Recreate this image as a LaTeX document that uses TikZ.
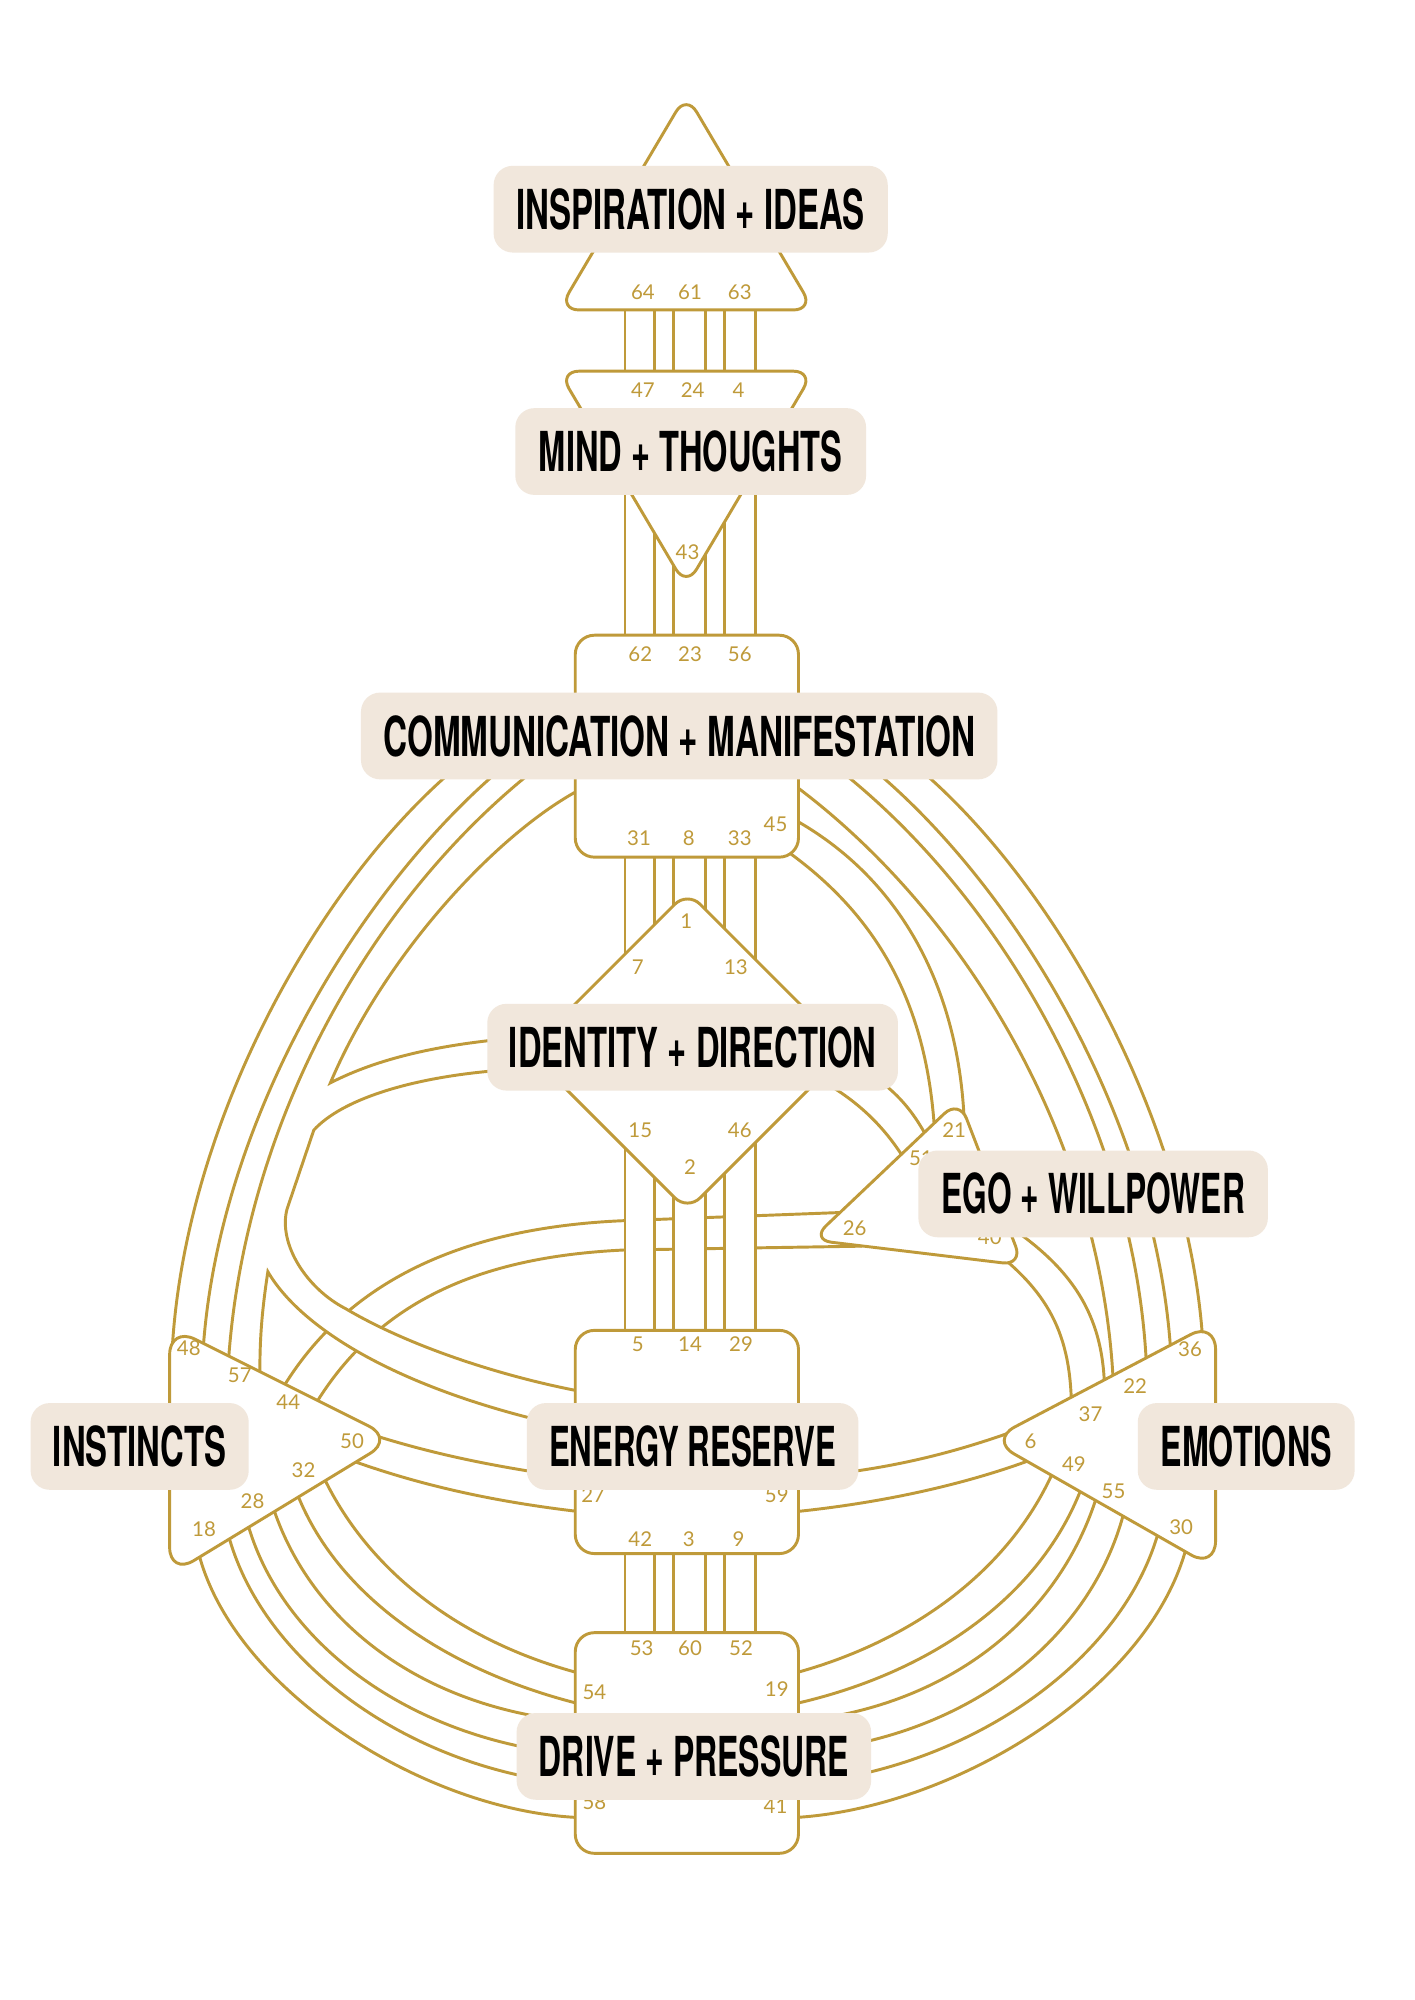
\documentclass[tikz,border=0pt]{standalone}
\usepackage{fontspec}
\usepackage{graphicx}
\setmainfont{TeX Gyre Heros}
\newfontfamily\gatefont{Lato}
\definecolor{gold}{HTML}{BF9A3A}
\definecolor{beige}{HTML}{F1E7DC}
\begin{document}
\begin{tikzpicture}[x=0.5pt,y=-0.5pt,
  gl/.style={draw=gold, line width=1.15pt},
  chan/.style={gl, fill=white},
  ctri/.style={gl, fill=white, rounded corners=8pt},
  cside/.style={gl, fill=white, rounded corners=11pt},
  cdia/.style={gl, fill=white, rounded corners=7pt},
  cbox/.style={gl, fill=white, rounded corners=7.5pt},
  lbl/.style={fill=beige, rounded corners=7.5pt, inner sep=0pt, minimum height=34pt},
  gate/.style={text=gold, font=\gatefont\fontsize{8pt}{9pt}\selectfont, inner sep=0pt}]
\fill[white] (0,0) rectangle (1109,1568);
\useasboundingbox (0,0) rectangle (1109,1568);

% ---- 44-26 channel (behind others)
\filldraw[chan] (675,950) -- (489,957) .. controls (370,962) and (270,1000) .. (216,1098)
  -- (242,1110) .. controls (295,1015) and (385,985) .. (489,980) -- (675,977) -- cycle;

% ---- integration complex (20/10/34/57)
\filldraw[chan] (465,612) -- (451,621) .. controls (385,658) and (300,752) .. (259,849)
  .. controls (290,833) and (330,822) .. (382,816) -- (440,814) -- (440,842) -- (382,840)
  .. controls (320,846) and (268,862) .. (246,886) -- (225,948)
  .. controls (218,975) and (240,1010) .. (271,1026)
  .. controls (320,1055) and (390,1078) .. (451,1090) -- (470,1092) -- (470,1122) -- (451,1120)
  .. controls (310,1090) and (235,1040) .. (210,997)
  .. controls (205,1030) and (203,1055) .. (204,1090) -- (178,1090)
  .. controls (184,890) and (290,700) .. (430,595) -- cycle;

% ---- 16-48
\draw[gl] (362,598) .. controls (250,690) and (145,880) .. (135,1058);
\draw[gl] (396,600) .. controls (282,695) and (170,880) .. (159,1062);

% ---- 27-50
\draw[gl] (262,1115) .. controls (320,1135) and (370,1148) .. (460,1160);
\draw[gl] (270,1143) .. controls (330,1165) and (390,1178) .. (462,1186);

% ---- 59-6
\draw[gl] (650,1156) .. controls (720,1148) and (770,1132) .. (822,1112);
\draw[gl] (615,1186) .. controls (700,1178) and (770,1160) .. (820,1140);

% ---- 12-22 and 35-36
\draw[gl] (622,615) .. controls (757,715) and (865,895) .. (873,1088);
\draw[gl] (647,595) .. controls (787,700) and (892,890) .. (899,1075);
\draw[gl] (681,600) .. controls (797,695) and (907,880) .. (918,1062);
\draw[gl] (715,598) .. controls (827,690) and (932,880) .. (943,1052);

% ---- 45-21
\draw[gl] (618,668) .. controls (690,720) and (728,790) .. (733,892);
\draw[gl] (620,641) .. controls (710,690) and (752,780) .. (756,880);

% ---- 25-51
\draw[gl] (640,845) .. controls (668,860) and (692,880) .. (711,912);
\draw[gl] (675,838) .. controls (700,852) and (716,870) .. (729,896);

% ---- 40-37
\draw[gl] (776,978) .. controls (825,1015) and (841,1050) .. (840,1112);
\draw[gl] (792,962) .. controls (848,1000) and (867,1040) .. (866,1098);

% ---- spleen to root
\draw[gl] (154,1210) .. controls (176,1320) and (330,1420) .. (455,1425);
\draw[gl] (177,1195) .. controls (200,1300) and (320,1388) .. (455,1399);
\draw[gl] (192,1186) .. controls (215,1285) and (320,1365) .. (455,1376);
\draw[gl] (212,1175) .. controls (240,1270) and (330,1340) .. (455,1350);
\draw[gl] (230,1163) .. controls (260,1250) and (350,1310) .. (455,1336);
\draw[gl] (250,1150) .. controls (285,1230) and (360,1287) .. (455,1312);

% ---- emotions to root
\draw[gl] (932,1205) .. controls (908,1320) and (750,1418) .. (622,1425);
\draw[gl] (910,1194) .. controls (885,1300) and (760,1388) .. (622,1399);
\draw[gl] (883,1178) .. controls (860,1282) and (760,1364) .. (622,1374);
\draw[gl] (862,1166) .. controls (835,1262) and (750,1338) .. (622,1350);
\draw[gl] (851,1158) .. controls (820,1250) and (730,1312) .. (622,1336);
\draw[gl] (829,1146) .. controls (795,1230) and (715,1287) .. (622,1312);

% ---- vertical channels
\foreach \a/\b in {490/513, 528/553, 568/592} {
  \filldraw[chan] (\a,235) rectangle (\b,300);
  \filldraw[chan] (\a,300) rectangle (\b,505);
  \filldraw[chan] (\a,665) rectangle (\b,775);
  \filldraw[chan] (\a,875) rectangle (\b,1050);
  \filldraw[chan] (\a,1210) rectangle (\b,1288);
}

% ---- centers
\filldraw[ctri] (538,74) -- (638,243) -- (438,243) -- cycle;
\filldraw[ctri] (438,291) -- (638,291) -- (538,460) -- cycle;
\filldraw[cbox] (451,498) rectangle (626,672);
\filldraw[cdia] (539,699) -- (664,824) -- (539,949) -- (414,824) -- cycle;
\filldraw[ctri] (752,862) -- (802,992) -- (636,972) -- cycle;
\filldraw[cside] (133,1040) -- (309,1128) -- (133,1235) -- cycle;
\filldraw[cside] (953,1036) -- (953,1230) -- (776,1129) -- cycle;
\filldraw[cbox] (451,1043) rectangle (626,1218);
\filldraw[cbox] (451,1280) rectangle (626,1453);

% ---- gate numbers
\node[gate] (g64) at (504,229) {64};
\node[gate] (g61) at (541,229) {61};
\node[gate] (g63) at (580,229) {63};
\node[gate] (g47) at (504,306) {47};
\node[gate] (g24) at (543,306) {24};
\node[gate] (g4) at (579,306) {4};
\node[gate] (g43) at (539,433) {43};
\node[gate] (g62) at (502,513) {62};
\node[gate] (g23) at (541,513) {23};
\node[gate] (g56) at (580,513) {56};
\node[gate] (g31) at (501,657) {31};
\node[gate] (g8) at (540,657) {8};
\node[gate] (g33) at (580,657) {33};
\node[gate] (g45) at (608,646) {45};
\node[gate] (g1) at (538,722) {1};
\node[gate] (g7) at (500,758) {7};
\node[gate] (g13) at (577,758) {13};
\node[gate] (g15) at (502,886) {15};
\node[gate] (g46) at (580,886) {46};
\node[gate] (g2) at (541,915) {2};
\node[gate] (g21) at (748,886) {21};
\node[gate] (g51) at (722,908) {51};
\node[gate] (g26) at (670,963) {26};
\node[gate] (g40) at (776,970) {40};
\node[gate] (g5) at (500,1054) {5};
\node[gate] (g14) at (541,1054) {14};
\node[gate] (g29) at (581,1054) {29};
\node[gate] (g27) at (465,1172) {27};
\node[gate] (g59) at (609,1172) {59};
\node[gate] (g42) at (502,1207) {42};
\node[gate] (g3) at (540,1207) {3};
\node[gate] (g9) at (579,1207) {9};
\node[gate] (g53) at (503,1292) {53};
\node[gate] (g60) at (541,1292) {60};
\node[gate] (g52) at (581,1292) {52};
\node[gate] (g54) at (466,1327) {54};
\node[gate] (g19) at (609,1324) {19};
\node[gate] (g58) at (466,1413) {58};
\node[gate] (g41) at (608,1416) {41};
\node[gate] (g48) at (148,1057) {48};
\node[gate] (g57) at (188,1078) {57};
\node[gate] (g44) at (226,1099) {44};
\node[gate] (g50) at (276,1130) {50};
\node[gate] (g32) at (238,1153) {32};
\node[gate] (g28) at (198,1177) {28};
\node[gate] (g18) at (160,1199) {18};
\node[gate] (g36) at (933,1058) {36};
\node[gate] (g22) at (890,1087) {22};
\node[gate] (g37) at (855,1109) {37};
\node[gate] (g6) at (808,1130) {6};
\node[gate] (g49) at (842,1148) {49};
\node[gate] (g55) at (873,1169) {55};
\node[gate] (g30) at (926,1197) {30};

% ---- labels
\node[lbl, minimum width=154.5pt] (lhead) at (541.5,164) {\resizebox{136.5pt}{16pt}{\bfseries INSPIRATION + IDEAS}};
\node[lbl, minimum width=137.5pt] (lajna) at (541.5,354) {\resizebox{119pt}{16pt}{\bfseries MIND + THOUGHTS}};
\node[lbl, minimum width=249.5pt] (lthroat) at (532.5,577) {\resizebox{232pt}{16pt}{\bfseries COMMUNICATION + MANIFESTATION}};
\node[lbl, minimum width=161pt] (lg) at (543,821) {\resizebox{144pt}{16pt}{\bfseries IDENTITY + DIRECTION}};
\node[lbl, minimum width=137pt] (lego) at (857,936) {\resizebox{119pt}{16pt}{\bfseries EGO + WILLPOWER}};
\node[lbl, minimum width=85.5pt] (lspleen) at (109.5,1134) {\resizebox{68pt}{16pt}{\bfseries INSTINCTS}};
\node[lbl, minimum width=130pt] (lsacral) at (543,1134) {\resizebox{112.5pt}{16pt}{\bfseries ENERGY RESERVE}};
\node[lbl, minimum width=85pt] (lemo) at (977,1134) {\resizebox{67pt}{16pt}{\bfseries EMOTIONS}};
\node[lbl, minimum width=139pt] (lroot) at (544,1377) {\resizebox{121.5pt}{16pt}{\bfseries DRIVE + PRESSURE}};
\end{tikzpicture}
\end{document}
